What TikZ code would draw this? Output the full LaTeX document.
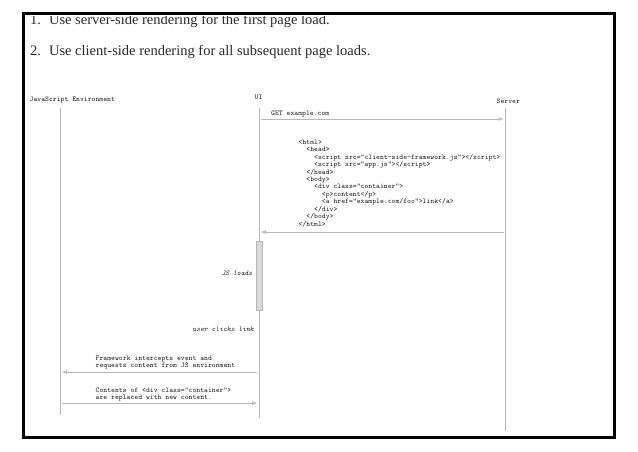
\documentclass[tikz,border=0pt]{standalone}
\usepackage{fontspec}
\setmainfont{Liberation Serif}
\usetikzlibrary{arrows.meta,positioning}
\definecolor{lifegray}{HTML}{B8B8B8}
\definecolor{inkgray}{HTML}{1E1E1E}
\definecolor{slidetext}{HTML}{2A2A2A}
\tikzset{
	slide/.style={
		draw=black, line width=3pt,
	},
	item/.style={
		anchor=base west, inner sep=0pt, text=slidetext,
		font=\fontsize{14.5}{16}\selectfont,
	},
	actor/.style={
		anchor=base west, inner sep=0pt, text=inkgray,
		font=\ttfamily\fontsize{7.3}{8}\selectfont,
	},
	note/.style={
		inner sep=0pt, text=inkgray, align=left,
		font=\ttfamily\fontsize{7.3}{7.45}\selectfont,
	},
	life/.style={
		draw=lifegray, line width=0.9pt,
	},
	msg/.style={
		draw=lifegray, line width=0.9pt, shorten >=2pt, shorten <=2pt,
		-{Triangle[open,length=5pt,width=3.6pt]},
	},
	act/.style={
		draw=lifegray, fill=black!15, line width=0.7pt,
		minimum width=6.5pt, minimum height=69pt, inner sep=0pt,
	}
}
\newcommand{\ind}{\phantom{xx}}

\begin{document}
\begin{tikzpicture}[x=1pt,y=-1pt]
	\useasboundingbox (0,0) rectangle (638,451);

	\begin{scope}
		\clip (25,16) rectangle (613,436);
		\node [item] (first) at (30,24) {1.\hspace{0.55em}Use server-side rendering for the first page load.};
		\node [item] (second) at (30,55) {2.\hspace{0.55em}Use client-side rendering for all subsequent page loads.};
	\end{scope}
	\draw [slide] (23.5,13.5) rectangle (614.5,437.5);

	\node [actor] (jsenv) at (29.5,101.5) {JavaScript Environment};
	\node [actor] (ui) at (254.5,99) {UI};
	\node [actor] (server) at (496.5,103) {Server};

	\coordinate (jstop) at (60,108);
	\coordinate (jsend) at (60,415);
	\coordinate (uitop) at (259,108);
	\coordinate (uiend) at (259,418);
	\coordinate (srvtop) at (505.5,108);
	\coordinate (srvend) at (505.5,431);

	\path [life] (jstop) -- (jsend);
	\path [life] (uitop) -- (uiend);
	\path [life] (srvtop) -- (srvend);

	\coordinate (get-ui) at (259,119);
	\coordinate (get-srv) at (505.5,119);
	\coordinate (page-srv) at (505.5,232);
	\coordinate (page-ui) at (259,232);
	\coordinate (ask-ui) at (259,372);
	\coordinate (ask-js) at (60,372);
	\coordinate (swap-js) at (60,403);
	\coordinate (swap-ui) at (259,403);

	\node [act] (load) at (259.25,275.5) {};

	\node [note, anchor=base west] (gettext) at (271,115.3) {GET example.com};
	\path [msg] (get-ui) -- (get-srv);

	\node [note, anchor=north west] (page) at (298.5,139.6) {<html>\\
\ind<head>\\
\ind\ind<script src="client-side-framework.js"></script>\\
\ind\ind<script src="app.js"></script>\\
\ind</head>\\
\ind<body>\\
\ind\ind<div class="container">\\
\ind\ind\ind<p>content</p>\\
\ind\ind\ind<a href="example.com/foo">link</a>\\
\ind\ind</div>\\
\ind</body>\\
</html>};
	\path [msg] (page-srv) -- (page-ui);

	\node [note, anchor=base east, font=\ttfamily\itshape\fontsize{7.3}{8}\selectfont] (jsloads) at (252.5,275.3) {JS loads};
	\node [note, anchor=base east, font=\ttfamily\itshape\fontsize{7.3}{8}\selectfont] (clicks) at (254,331) {user clicks link};

	\node [note, anchor=north west] (intercept) at (95.5,355.6) {Framework intercepts event and\\
requests content from JS environment};
	\path [msg] (ask-ui) -- (ask-js);

	\node [note, anchor=north west] (replace) at (95.5,387.6) {Contents of <div class="container">\\
are replaced with new content.};
	\path [msg] (swap-js) -- (swap-ui);
\end{tikzpicture}
\end{document}
